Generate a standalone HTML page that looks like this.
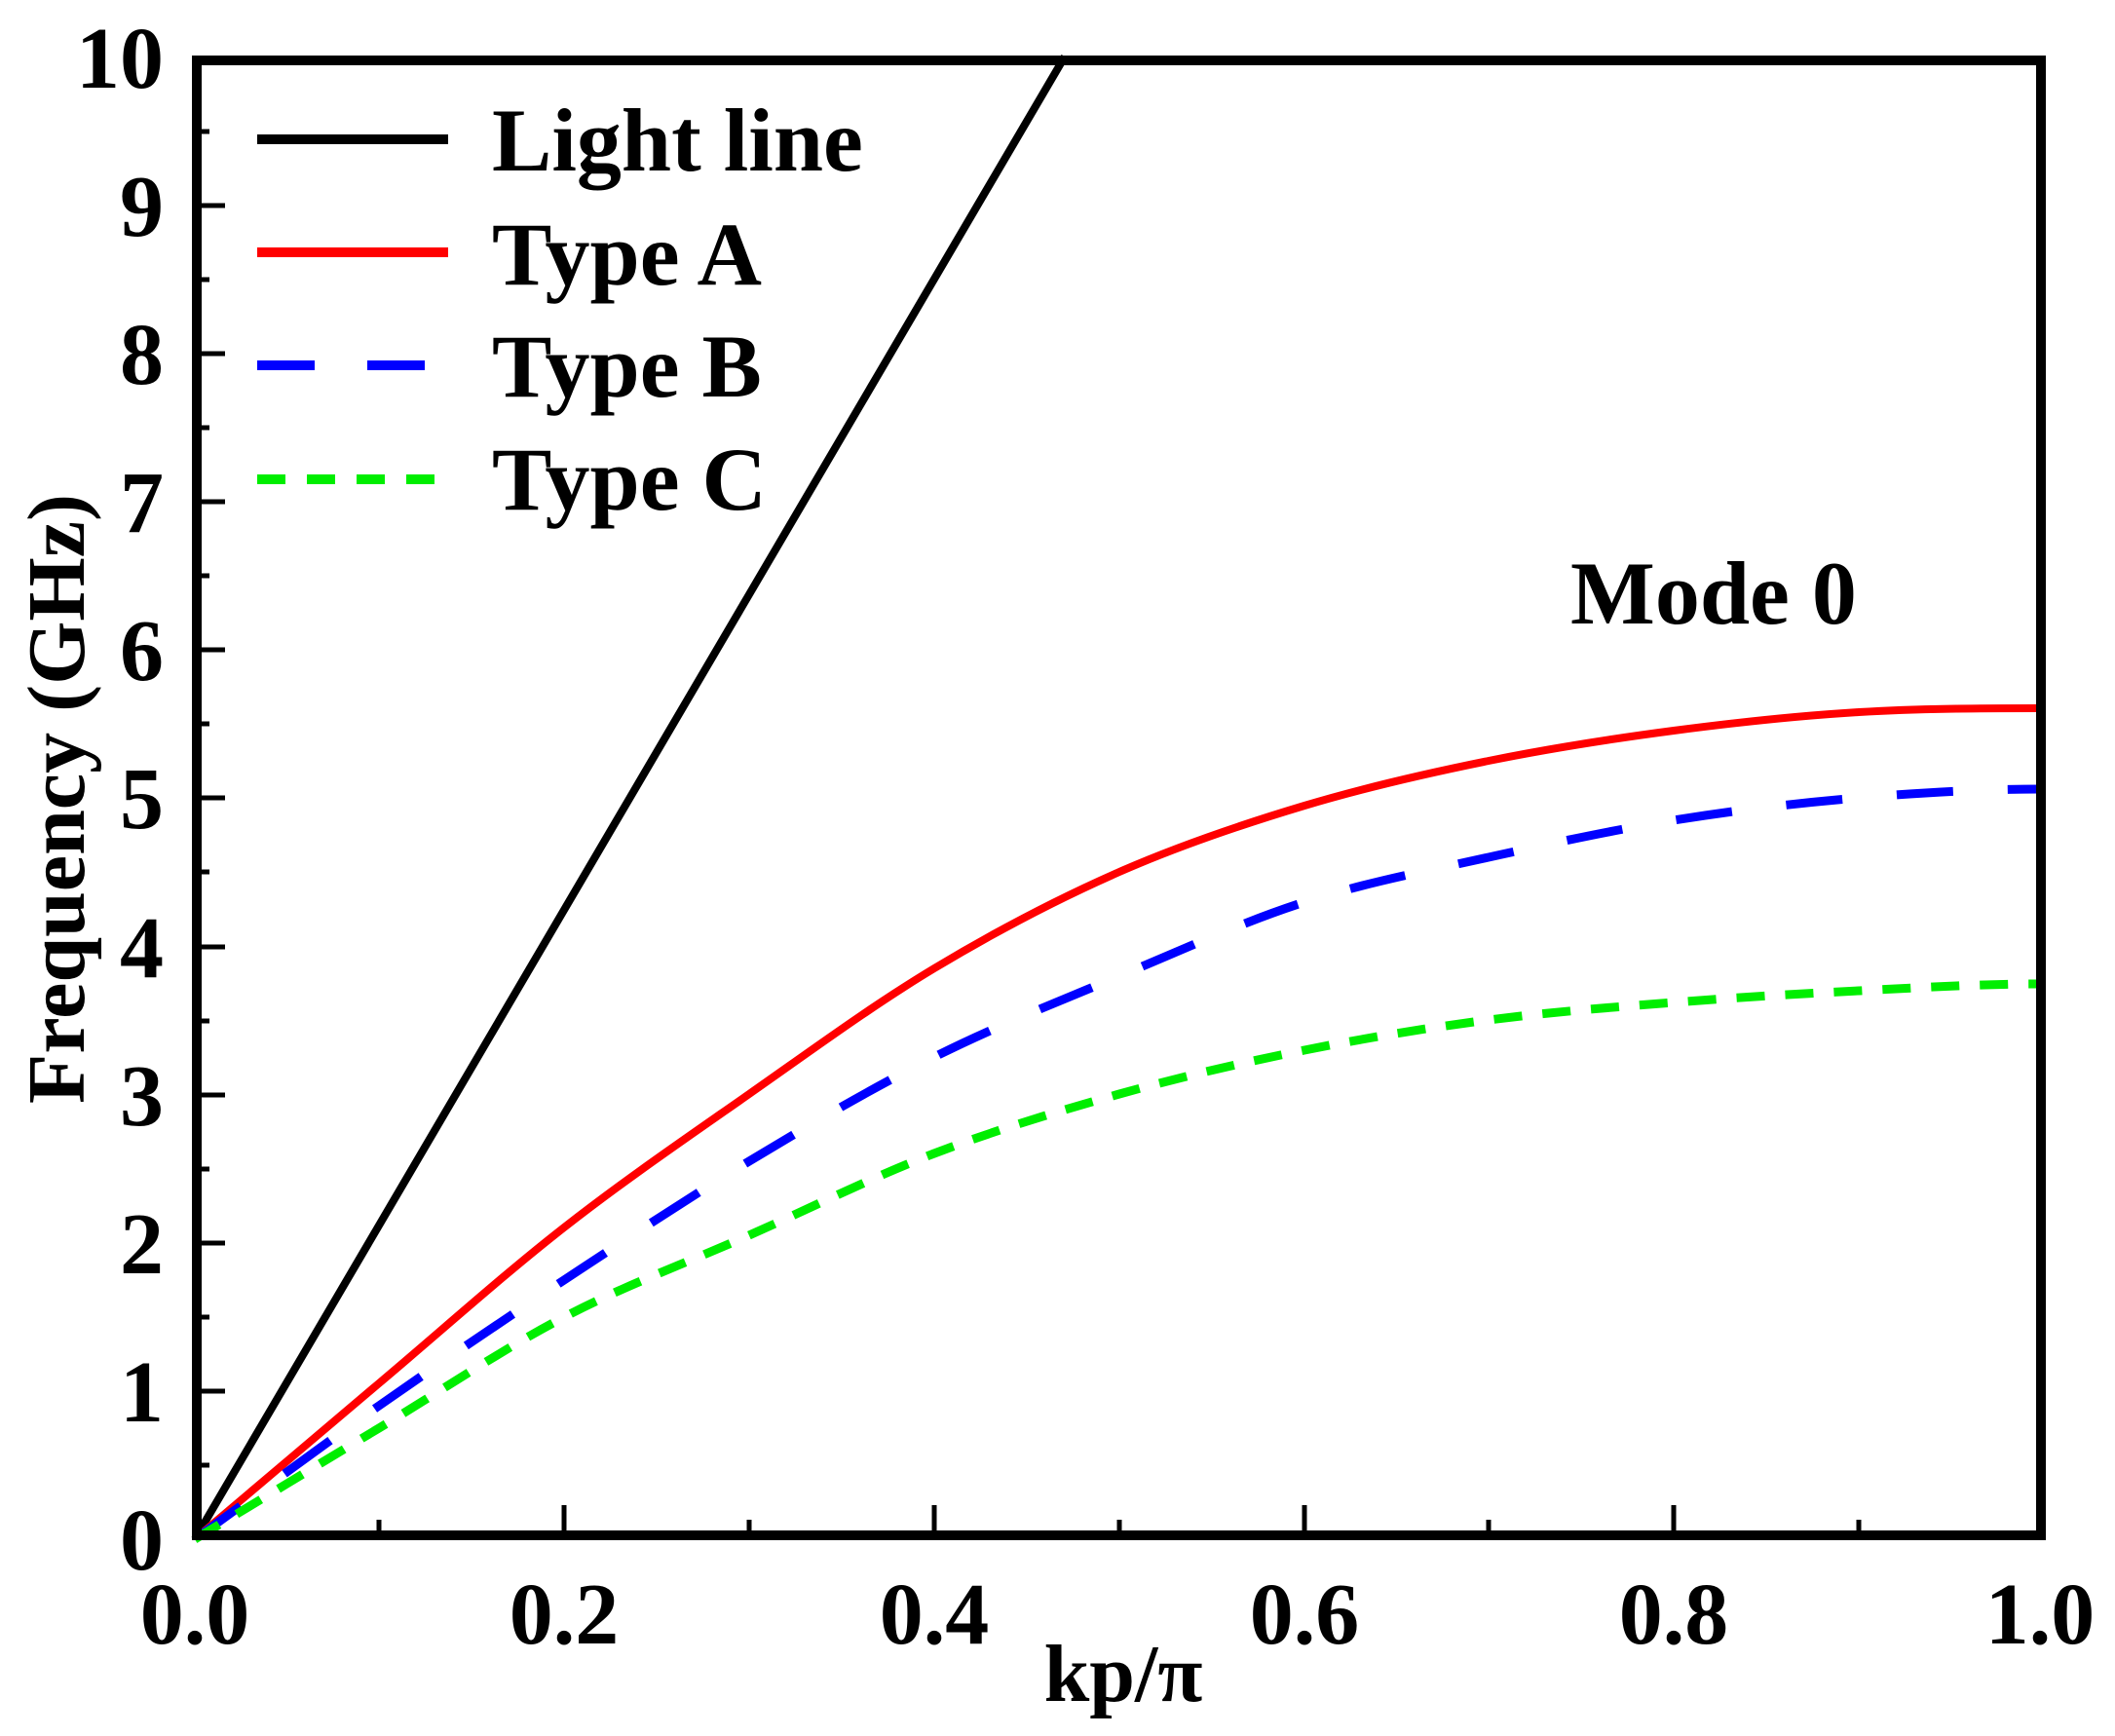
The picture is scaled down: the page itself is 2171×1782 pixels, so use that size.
<!DOCTYPE html>
<html><head><meta charset="utf-8"><style>
html,body{margin:0;padding:0;background:#fff;}
svg{display:block;}
text{font-family:"Liberation Serif",serif;font-weight:bold;fill:#000;}
</style></head><body>
<svg width="2171" height="1782" viewBox="0 0 2171 1782" xmlns="http://www.w3.org/2000/svg">
<g fill="none" stroke-linecap="butt" stroke-linejoin="round">
<line x1="200" y1="1580" x2="1093" y2="58" stroke="#000" stroke-width="8"/>
<path stroke="#ff0000" stroke-width="8" d="M200,1580 C263.3,1526.7 325.7,1473.3 389,1420 C452.3,1366.7 515.7,1309.5 579,1260 C642.3,1210.5 705.7,1167.3 769,1123 C832.3,1078.7 895.7,1032 959,994 C1022.3,956 1085.7,922.8 1149,895 C1212.3,867.2 1275.7,846 1339,827 C1402.3,808 1464.7,793.8 1528,781 C1591.3,768.2 1654.7,758.3 1718,750 C1781.3,741.7 1844.7,734.8 1908,731 C1970,727.2 2032,727 2094,727"/>
<path stroke="#0000ff" stroke-width="9" stroke-dasharray="58,56" d="M200,1580 C263.3,1534.3 325.7,1487.3 389,1443 C452.3,1398.7 515.7,1355.8 579,1314 C642.3,1272.2 705.7,1230.2 769,1192 C832.3,1153.8 895.7,1116.7 959,1085 C1022.3,1053.3 1085.7,1028.5 1149,1002 C1212.3,975.5 1275.7,946.3 1339,926 C1402.3,905.7 1464.7,894 1528,880 C1591.3,866 1654.7,852.2 1718,842 C1781.3,831.8 1844.7,824.3 1908,819 C1970,813.7 2032,810 2094,810"/>
<path stroke="#00ee00" stroke-width="9" stroke-dasharray="29,21" d="M200,1580 C263.3,1542 325.7,1504 389,1466 C452.3,1428 515.7,1385 579,1352 C642.3,1319 705.7,1296 769,1268 C832.3,1240 895.7,1208.2 959,1184 C1022.3,1159.8 1085.7,1140.7 1149,1123 C1212.3,1105.3 1275.7,1090.7 1339,1078 C1402.3,1065.3 1464.7,1055.2 1528,1047 C1591.3,1038.8 1654.7,1034 1718,1029 C1781.3,1024 1844.7,1020.2 1908,1017 C1970,1013.8 2032,1010 2094,1010"/>
</g>
<rect x="202" y="62" width="1893" height="1514" fill="none" stroke="#000" stroke-width="10"/>
<g stroke="#000" stroke-width="5">
<line x1="207" y1="1428" x2="231" y2="1428"/><line x1="207" y1="1276" x2="231" y2="1276"/>
<line x1="207" y1="1124" x2="231" y2="1124"/><line x1="207" y1="972" x2="231" y2="972"/>
<line x1="207" y1="819" x2="231" y2="819"/><line x1="207" y1="667" x2="231" y2="667"/>
<line x1="207" y1="515" x2="231" y2="515"/><line x1="207" y1="363" x2="231" y2="363"/>
<line x1="207" y1="211" x2="231" y2="211"/>
<line x1="207" y1="1504" x2="215" y2="1504"/><line x1="207" y1="1352" x2="215" y2="1352"/>
<line x1="207" y1="1200" x2="215" y2="1200"/><line x1="207" y1="1048" x2="215" y2="1048"/>
<line x1="207" y1="895" x2="215" y2="895"/><line x1="207" y1="743" x2="215" y2="743"/>
<line x1="207" y1="591" x2="215" y2="591"/><line x1="207" y1="439" x2="215" y2="439"/>
<line x1="207" y1="287" x2="215" y2="287"/><line x1="207" y1="135" x2="215" y2="135"/>
<line x1="579" y1="1571" x2="579" y2="1545"/><line x1="959" y1="1571" x2="959" y2="1545"/>
<line x1="1339" y1="1571" x2="1339" y2="1545"/><line x1="1718" y1="1571" x2="1718" y2="1545"/>
<line x1="389" y1="1571" x2="389" y2="1560"/><line x1="769" y1="1571" x2="769" y2="1560"/>
<line x1="1149" y1="1571" x2="1149" y2="1560"/><line x1="1528" y1="1571" x2="1528" y2="1560"/>
<line x1="1908" y1="1571" x2="1908" y2="1560"/>
</g>
<g font-size="90" text-anchor="end">
<text x="168" y="1611">0</text><text x="168" y="1459">1</text><text x="168" y="1307">2</text>
<text x="168" y="1155">3</text><text x="168" y="1003">4</text><text x="168" y="850">5</text>
<text x="168" y="698">6</text><text x="168" y="546">7</text><text x="168" y="394">8</text>
<text x="168" y="242">9</text><text x="168" y="90">10</text>
</g>
<g font-size="90" text-anchor="middle">
<text x="200" y="1687">0.0</text><text x="579" y="1687">0.2</text><text x="959" y="1687">0.4</text>
<text x="1339" y="1687">0.6</text><text x="1718" y="1687">0.8</text><text x="2094" y="1687">1.0</text>
</g>
<text x="1153" y="1746" font-size="84" text-anchor="middle">kp/π</text>
<text transform="translate(86,820) rotate(-90)" font-size="84" text-anchor="middle">Frequency (GHz)</text>
<line x1="264" y1="143" x2="460" y2="143" stroke="#000" stroke-width="10"/>
<line x1="264" y1="259" x2="460" y2="259" stroke="#ff0000" stroke-width="10"/>
<line x1="264" y1="375" x2="460" y2="375" stroke="#0000ff" stroke-width="10" stroke-dasharray="59,54"/>
<line x1="264" y1="492" x2="460" y2="492" stroke="#00ee00" stroke-width="10" stroke-dasharray="29,22"/>
<g font-size="92">
<text x="505" y="175">Light line</text>
<text x="505" y="292">Type A</text>
<text x="505" y="407">Type B</text>
<text x="505" y="523">Type C</text>
<text x="1612" y="640">Mode 0</text>
</g>
</svg>
</body></html>
